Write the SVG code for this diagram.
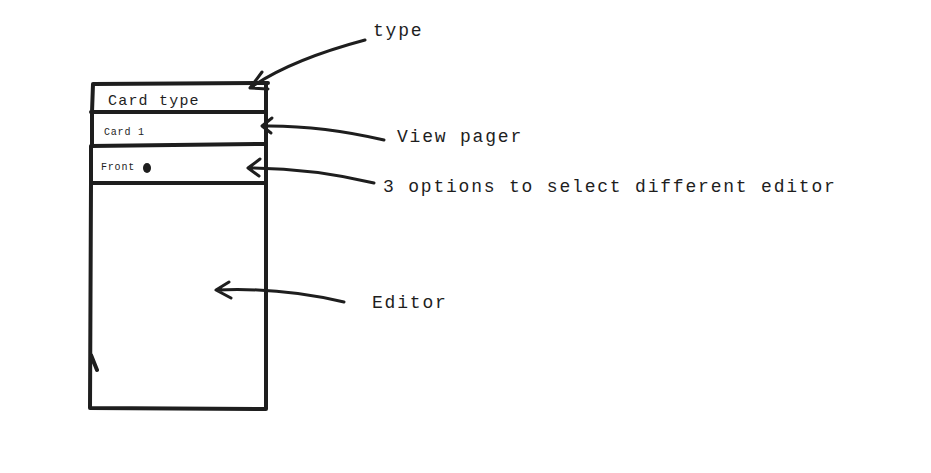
<svg xmlns="http://www.w3.org/2000/svg" width="931" height="473" viewBox="0 0 931 473">
<style>
.s{fill:none;stroke:#1e1e1e;stroke-width:4;stroke-linecap:round;stroke-linejoin:round}
.a{fill:none;stroke:#1e1e1e;stroke-width:3;stroke-linecap:round;stroke-linejoin:round}
text{font-family:"Liberation Mono","DejaVu Sans Mono",monospace;fill:#1e1e1e}
.l{font-size:18px;letter-spacing:1.8px}
.m{font-size:15px;letter-spacing:1.2px}
.t{font-size:10px;letter-spacing:0.8px}
</style>
<rect width="931" height="473" fill="#fff"/>
<g id="phone">
<path class="s" d="M93 84 L268 83 M93 84 L92 112 M91 112 L265 112 M92 112 L92 145 M91 146 L264 144 M91 146 L91 183 M91 183 L264 183 M266 84 L266 409 M91 183 L90 408 L265 409 M91 355 L97 370"/>
</g>
<g id="cardtype"><text class="m" x="108" y="105">Card type</text></g>
<g id="card1"><text class="t" x="104" y="135">Card 1</text></g>
<g id="front"><text class="t" x="101" y="170">Front</text><ellipse cx="147" cy="168" rx="4" ry="5" fill="#1e1e1e"/></g>
<g id="labels">
<text class="l" x="373" y="36">type</text>
<text class="l" x="397" y="142">View pager</text>
<text class="l" x="383" y="192">3 options to select different editor</text>
<text class="l" x="372" y="308">Editor</text>
</g>
<g id="connectors">
<path class="a" d="M365 40 Q290 60 250 88 M250 88 L262 72 M250 88 L268 89"/>
<path class="a" d="M384 140 Q320 125 262 126 M262 126 L272 118 M262 126 L271 133"/>
<path class="a" d="M374 183 Q310 168 248 168 M248 168 L260 159 M248 168 L259 176"/>
<path class="a" d="M344 302 Q280 287 216 290 M216 290 L229 282 M216 290 L231 298"/>
</g>
</svg>
